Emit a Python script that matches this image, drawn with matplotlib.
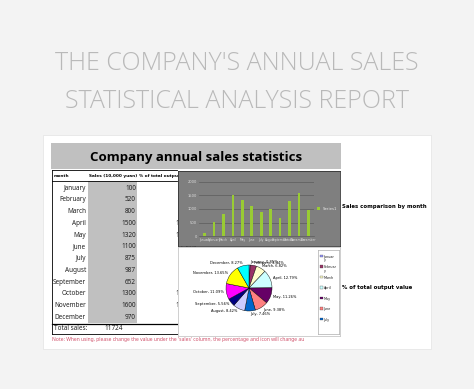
import matplotlib
matplotlib.use("Agg")
import matplotlib.pyplot as plt
from matplotlib.patches import Rectangle

W, H = 474, 389

title_lines = ["THE COMPANY'S ANNUAL SALES", "STATISTICAL ANALYSIS REPORT"]
months = ["January", "February", "March", "April", "May", "June", "July",
          "August", "September", "October", "November", "December"]
sales = [100, 520, 800, 1500, 1320, 1100, 875, 987, 652, 1300, 1600, 970]
share = [0.85, 4.44, 6.82, 12.79, 11.26, 9.38, 7.46, 8.42, 5.56, 11.09, 13.65, 8.27]
total_sales = 11724
yticks = [0, 500, 1000, 1500, 2000]
pie_colors = ["#9999ff", "#993366", "#ffffcc", "#ccffff", "#660066", "#ff8080",
              "#0066cc", "#ccccff", "#000080", "#ff00ff", "#ffff00", "#00ffff"]
legend_months = ["Januar\ny", "Februar\ny", "March", "April", "May", "June", "July"]


def fr(x0, y0, x1, y1):
    # pixel box -> figure fraction rect
    return [x0 / W, 1 - y1 / H, (x1 - x0) / W, (y1 - y0) / H]


fig = plt.figure(figsize=(W / 100, H / 100), dpi=100)
fig.patch.set_facecolor("#f3f3f3")
ax = fig.add_axes([0, 0, 1, 1])
ax.set_xlim(0, W)
ax.set_ylim(H, 0)
ax.axis("off")

# title
ax.text(237, 63, title_lines[0], ha="center", va="center", fontsize=18,
        color="#b9b9b9", family="Open Sans", weight="light")
ax.text(237, 101, title_lines[1], ha="center", va="center", fontsize=18,
        color="#b9b9b9", family="Open Sans", weight="light")

# white sheet panel
ax.add_patch(Rectangle((43, 135), 388, 214, facecolor="white", edgecolor="#e6e6e6", lw=0.6))

# header band
ax.add_patch(Rectangle((51, 143), 290, 26, facecolor="#c0c0c0", edgecolor="none"))
ax.text(196, 157, "Company annual sales statistics", ha="center", va="center",
        fontsize=9.5, weight="bold", family="Open Sans", color="black")

# sales column shading
ax.add_patch(Rectangle((88, 181), 49, 142, facecolor="#c0c0c0", edgecolor="none"))

# table lines
ax.plot([52, 177], [170, 170], color="black", lw=0.6)
ax.plot([52, 177], [181, 181], color="black", lw=0.6)
ax.plot([52, 52], [170, 334], color="black", lw=0.6)
ax.plot([52, 195], [323.5, 323.5], color="black", lw=0.9)
ax.plot([52, 215], [334, 334], color="black", lw=0.6)

hf = dict(fontsize=3.1, weight="bold", family="DejaVu Sans", va="center")
ax.text(54, 175.5, "month", ha="left", **hf)
ax.text(89, 175.5, "Sales (10,000 yuan)", ha="left", **hf)
ax.text(139, 175.5, "% of total output value", ha="left", **hf)

rf = dict(fontsize=4.6, family="Noto Sans", va="center", color="#222222")
for i, m in enumerate(months):
    y = 188 + i * 11.75
    ax.text(86, y, m, ha="right", **rf)
    ax.text(136, y, str(sales[i]), ha="right", **rf)
    ax.text(197, y, f"{share[i]:.2f}%", ha="right", **rf)
ax.text(54, 329, "Total sales:", ha="left", **rf)
ax.text(114, 329, str(total_sales), ha="center", **rf)

ax.text(52, 340, "Note: When using, please change the value under the 'sales' column, "
        "the percentage and icon will change au", ha="left", va="center",
        fontsize=3.6, family="Noto Sans", color="#d0506a")

# side captions
ax.text(342, 206, "Sales comparison by month", ha="left", va="center",
        fontsize=3.9, weight="bold", family="DejaVu Sans")
ax.text(342, 288, "% of total output value", ha="left", va="center",
        fontsize=3.9, weight="bold", family="DejaVu Sans")

# bar chart frame
frame = fig.add_axes(fr(177.5, 171, 340, 246))
frame.set_facecolor("#7f7f7f")
frame.set_xticks([])
frame.set_yticks([])
for s in frame.spines.values():
    s.set_color("#333333")
    s.set_linewidth(0.6)

bx = fig.add_axes(fr(199, 182, 314, 236))
bx.set_facecolor("#7f7f7f")
bx.bar(range(len(months)), sales, width=0.3, color="#99cc33", zorder=3,
       label="Series1")
bx.set_ylim(0, 2000)
bx.set_xlim(-0.6, len(months) - 0.4)
bx.set_yticks(yticks)
bx.set_yticklabels([str(v) for v in yticks], fontsize=2.6, color="#dddddd")
bx.set_xticks(range(len(months)))
bx.set_xticklabels(months, fontsize=2.2, color="#dddddd")
bx.tick_params(length=0, pad=1.5)
bx.grid(axis="y", color="#5c5c5c", lw=0.5, zorder=0)
for s in bx.spines.values():
    s.set_visible(False)
bx.spines["bottom"].set_visible(True)
bx.spines["bottom"].set_color("#5c5c5c")
bx.spines["bottom"].set_linewidth(0.5)
bx.legend(loc="center left", bbox_to_anchor=(1.0, 0.5), frameon=False,
          fontsize=2.8, labelcolor="#e8e8e8", handlelength=0.8, handleheight=0.8,
          borderaxespad=0.3)

# pie chart frame
pframe = fig.add_axes(fr(177.5, 247, 340, 336))
pframe.set_facecolor("white")
pframe.set_xticks([])
pframe.set_yticks([])
for s in pframe.spines.values():
    s.set_color("#c8c8c8")
    s.set_linewidth(0.6)

px = fig.add_axes(fr(226, 265, 272, 311))
labels = [f"{m}, {p:.2f}%" for m, p in zip(months, share)]
px.pie(sales, colors=pie_colors, startangle=90, counterclock=False,
       labels=labels, labeldistance=1.12,
       wedgeprops=dict(edgecolor="black", linewidth=0.3),
       textprops=dict(fontsize=2.6, family="DejaVu Sans"))
px.set_xlim(-1, 1)
px.set_ylim(-1, 1)
px.set_aspect("equal")

# pie legend
lx = fig.add_axes(fr(318, 250, 339, 334))
lx.set_xlim(0, 21)
lx.set_ylim(84, 0)
lx.set_xticks([])
lx.set_yticks([])
for s in lx.spines.values():
    s.set_color("#999999")
    s.set_linewidth(0.4)
for i, m in enumerate(legend_months):
    y = 6 + i * 10.5
    lx.add_patch(Rectangle((2, y - 1.3), 2.6, 2.6, facecolor=pie_colors[i],
                           edgecolor="#333333", lw=0.2))
    lx.text(5.5, y - 1.2, m, ha="left", va="top", fontsize=2.4, color="#222222",
            linespacing=0.9)

fig.savefig("out.png", dpi=100, facecolor=fig.get_facecolor())
